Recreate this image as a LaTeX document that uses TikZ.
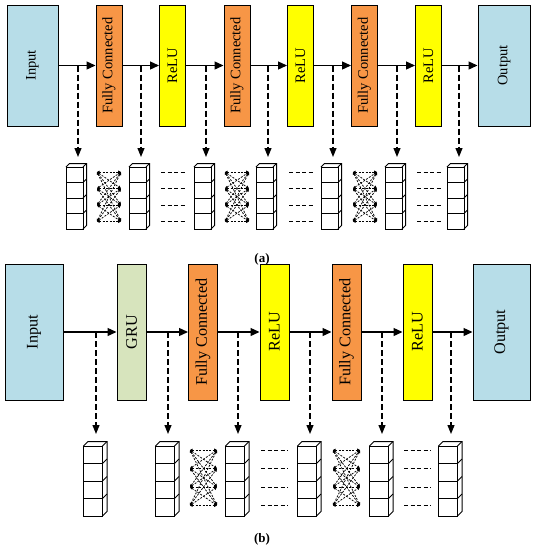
\documentclass[tikz,border=0pt]{standalone}
\usepackage{fontspec}
\setmainfont{Liberation Serif}
\usepackage{tikz}
\usetikzlibrary{arrows.meta}
\definecolor{inblue}{RGB}{183,221,232}
\definecolor{fcorange}{RGB}{247,150,70}
\definecolor{reluyellow}{RGB}{255,255,0}
\definecolor{grugreen}{RGB}{215,228,189}

\begin{document}
\begin{tikzpicture}[x = 1pt, y = -1pt, line width = 1pt,
    boxa/.style = {rectangle, draw, inner sep = 0pt, minimum width = 26pt, minimum height = 121pt,
        font = \fontsize{14.5}{17}\selectfont},
    boxb/.style = {rectangle, draw, inner sep = 0pt, minimum width = 29pt, minimum height = 136pt,
        font = \fontsize{16.2}{19}\selectfont},
    flow/.style = {line width = 1.3pt, -{Triangle[length = 9pt, width = 8pt]}},
    drop/.style = {line width = 1.2pt, dash pattern = on 6pt off 3pt, -{Triangle[length = 9pt, width = 7pt]}},
    web/.style = {line width = 0.75pt, dash pattern = on 2pt off 1.4pt,
        {Triangle[length = 2.5pt, width = 2.5pt]}-{Triangle[length = 3pt, width = 3pt]}},
    relu/.style = {line width = 1pt, dash pattern = on 4pt off 2.5pt}]
\useasboundingbox (0,0) rectangle (536,550);

% (a)
\draw (32.5,65.5) node[boxa, fill = inblue, minimum width = 51pt](a0){\rotatebox{90}{Input}}
    (109,65.5) node[boxa, fill = fcorange](a1){\rotatebox{90}{Fully Connected}}
    (172.5,65.5) node[boxa, fill = reluyellow](a2){\rotatebox{90}{ReLU}}
    (237,65.5) node[boxa, fill = fcorange](a3){\rotatebox{90}{Fully Connected}}
    (300.5,65.5) node[boxa, fill = reluyellow](a4){\rotatebox{90}{ReLU}}
    (364.5,65.5) node[boxa, fill = fcorange](a5){\rotatebox{90}{Fully Connected}}
    (428.5,65.5) node[boxa, fill = reluyellow](a6){\rotatebox{90}{ReLU}}
    (504,65.5) node[boxa, fill = inblue, minimum width = 52pt](a7){\rotatebox{90}{Output}};
\foreach \i [count = \j] in {0,...,6}
    \draw[flow] (a\i) -- (a\j);
\foreach \x [count = \n] in {78,141,206,268,333,397,459} {
    \coordinate (da\n) at (\x,65.5);
    \coordinate (ca\n) at (\x,157);
    \draw[drop] (da\n) -- (ca\n);
    \foreach \r in {0,...,3}
        \draw (\x-12,167+\r*15.5) rectangle ++(17,15.5);
    \draw (\x-12,167) -- ++(3.5,-3.5) -- ++(17,0) -- ++(0,62) -- ++(-3.5,3.5);
    \foreach \r in {0,...,3}
        \draw (\x+5,167+\r*15.5) -- ++(3.5,-3.5);
}
\foreach \x in {96,224,352}
    \foreach \i in {0,...,3}
        \foreach \k in {0,...,3}
            \draw[web] (\x+1,172+\i*16.5) -- (\x+25,172+\k*16.5);
\foreach \x in {160,288,416}
    \foreach \i in {0,...,3}
        \draw[relu] (\x+1,172+\i*16.5) -- (\x+26,172+\i*16.5);
\node[font = \fontsize{13}{15}\selectfont\bfseries] (capa) at (262,259) {(a)};

% (b)
\draw (34,332) node[boxb, fill = inblue, minimum width = 58pt](b0){\rotatebox{90}{Input}}
    (131.5,332) node[boxb, fill = grugreen](b1){\rotatebox{90}{GRU}}
    (203,332) node[boxb, fill = fcorange](b2){\rotatebox{90}{Fully Connected}}
    (274.5,332) node[boxb, fill = reluyellow](b3){\rotatebox{90}{ReLU}}
    (346.5,332) node[boxb, fill = fcorange](b4){\rotatebox{90}{Fully Connected}}
    (417.5,332) node[boxb, fill = reluyellow](b5){\rotatebox{90}{ReLU}}
    (501.5,332) node[boxb, fill = inblue, minimum width = 57pt](b6){\rotatebox{90}{Output}};
\foreach \i [count = \j] in {0,...,5}
    \draw[flow] (b\i) -- (b\j);
\foreach \x [count = \n] in {96,168,238,310,382,451} {
    \coordinate (db\n) at (\x,332);
    \coordinate (cb\n) at (\x,434);
    \draw[drop] (db\n) -- (cb\n);
    \foreach \r in {0,...,3}
        \draw (\x-12.5,446+\r*17.5) rectangle ++(19,17.5);
    \draw (\x-12.5,446) -- ++(4.5,-4.5) -- ++(19,0) -- ++(0,70) -- ++(-4.5,4.5);
    \foreach \r in {0,...,3}
        \draw (\x+6.5,446+\r*17.5) -- ++(4.5,-4.5);
}
\foreach \x in {189,332}
    \foreach \i in {0,...,3}
        \foreach \k in {0,...,3}
            \draw[web] (\x+1,450+\i*18.5) -- (\x+28,450+\k*18.5);
\foreach \x in {260,403}
    \foreach \i in {0,...,3}
        \draw[relu] (\x+1,450+\i*18.5) -- (\x+28,450+\i*18.5);
\node[font = \fontsize{13}{15}\selectfont\bfseries] (capb) at (262,539) {(b)};
\end{tikzpicture}
\end{document}
